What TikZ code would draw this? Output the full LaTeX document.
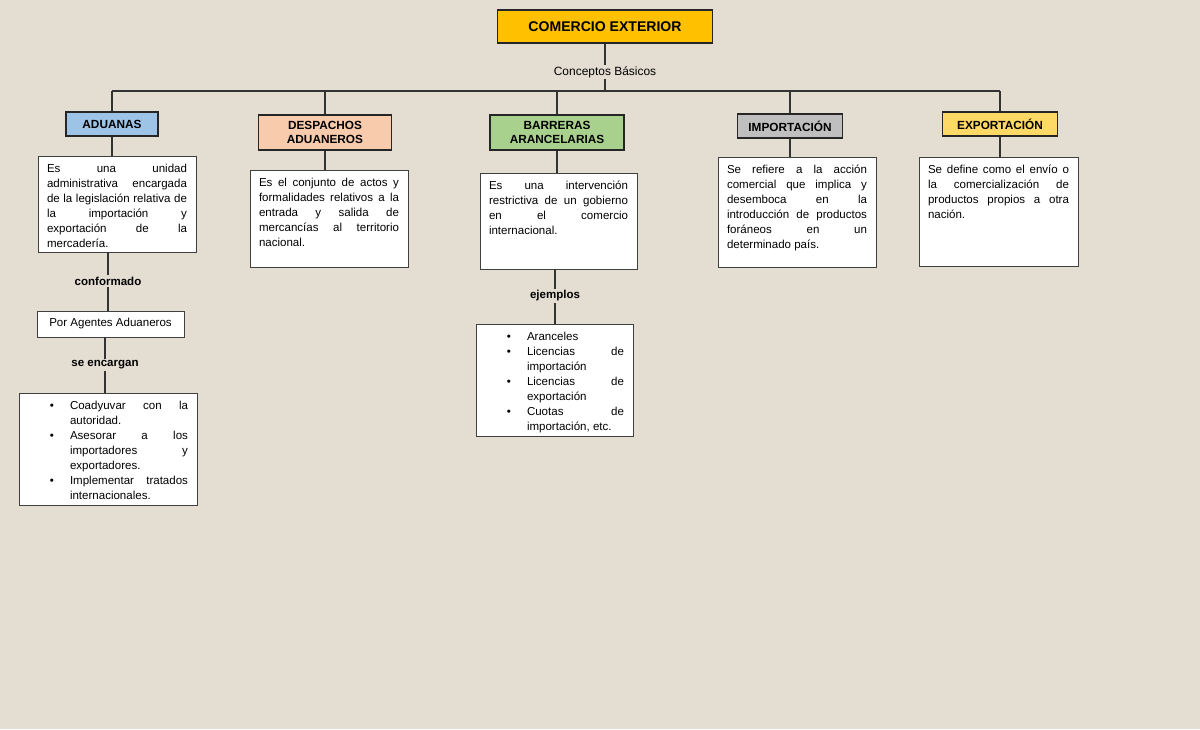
\documentclass[tikz,border=0pt]{standalone}
\usepackage{fontspec}
\setmainfont{Liberation Sans}
\usetikzlibrary{positioning}

\newlength{\px}
\setlength{\px}{0.025cm}

\definecolor{paper}{RGB}{228,221,210}
\definecolor{titlefill}{RGB}{255,192,0}
\definecolor{adfill}{RGB}{157,195,230}
\definecolor{defill}{RGB}{248,203,173}
\definecolor{bafill}{RGB}{169,209,142}
\definecolor{imfill}{RGB}{191,191,191}
\definecolor{exfill}{RGB}{255,217,102}

\newcommand{\txtfont}{\fontsize{8.2}{10.7}\selectfont}
\newcommand{\hdrfont}{\fontsize{8.4}{10.5}\selectfont\bfseries}
\newcommand{\titlefont}{\fontsize{10}{12}\selectfont\bfseries}
% top aligned justified text of fixed size (in px)
\newcommand{\boxtext}[3]{\parbox[c][#2\px][t]{#1\px}{\tolerance=10000\hbadness=10000\hyphenpenalty=10000 #3}}
\newenvironment{dotlist}{\begin{list}{\textbullet}{%
  \setlength{\leftmargin}{42\px}\setlength{\labelsep}{16\px}%
  \setlength{\labelwidth}{26\px}\setlength{\itemindent}{0pt}%
  \setlength{\itemsep}{0pt}\setlength{\parsep}{0pt}%
  \setlength{\topsep}{0pt}\setlength{\partopsep}{0pt}}}{\end{list}}

\begin{document}
\begin{tikzpicture}[x=0.025cm,y=-0.025cm,
  hdrbox/.style={rectangle,draw=black!85,line width=0.8pt,fill=#1,inner sep=0pt,align=center,font=\hdrfont},
  txtbox/.style={rectangle,draw=black!75,line width=0.7pt,fill=white,inner xsep=9*\px,inner ysep=8*\px,font=\txtfont},
  lbl/.style={font=\txtfont\bfseries,inner sep=1pt},
  link/.style={draw=black!80,line width=1.4pt},
]
\useasboundingbox (0,0) rectangle (1200,729);
\fill[paper] (0,0) rectangle (1200,729);

% ==== ROOT ====
\node[hdrbox=titlefill,font=\titlefont,minimum width=215*\px,minimum height=33*\px] (title) at (605,26.5) {COMERCIO EXTERIOR};
\node[font=\fontsize{8.5}{10}\selectfont,inner sep=1pt] (cb) at (605,72) {Conceptos Básicos};
\coordinate (bus) at (605,91);

% ==== HEADERS ====
\node[hdrbox=adfill,minimum width=92*\px,minimum height=24*\px] (ad) at (112,124) {ADUANAS};
\node[hdrbox=defill,minimum width=133*\px,minimum height=35*\px] (de) at (325,132.5) {DESPACHOS\\ADUANEROS};
\node[hdrbox=bafill,minimum width=134*\px,minimum height=35*\px] (ba) at (557,132.5) {BARRERAS\\ARANCELARIAS};
\node[hdrbox=imfill,minimum width=105*\px,minimum height=24*\px] (im) at (790,126) {IMPORTACIÓN};
\node[hdrbox=exfill,minimum width=115*\px,minimum height=24*\px] (ex) at (1000,124) {EXPORTACIÓN};

% ==== DEFINITIONS ====
\node[txtbox] (adtxt) at (117,204) {\boxtext{140}{80}{Es una unidad\linebreak administrativa encargada\linebreak de la legislación relativa de\linebreak la importación y\linebreak exportación de la\linebreak mercadería.}};
\node[txtbox] (detxt) at (329,218.5) {\boxtext{140}{81}{Es el conjunto de actos y\linebreak formalidades relativos a la\linebreak entrada y salida de\linebreak mercancías al territorio\linebreak nacional.}};
\node[txtbox] (batxt) at (558.5,221) {\boxtext{139}{80}{Es una intervención\linebreak restrictiva de un gobierno\linebreak en el comercio\linebreak internacional.}};
\node[txtbox] (imtxt) at (797,212) {\boxtext{140}{94}{Se refiere a la acción\linebreak comercial que implica y\linebreak desemboca en la\linebreak introducción de productos\linebreak foráneos en un\linebreak determinado país.}};
\node[txtbox] (extxt) at (998.5,211.5) {\boxtext{141}{93}{Se define como el envío o\linebreak la comercialización de\linebreak productos propios a otra\linebreak nación.}};

% ==== ADUANAS branch ====
\node[lbl] (cf) at (108,281) {conformado};
\node[txtbox,inner ysep=0pt,minimum width=147*\px,minimum height=26*\px] (por) at (110.5,324) {Por Agentes Aduaneros};
\node[lbl] (se) at (105,365) {se encargan};
\node[txtbox] (adlist) at (108,449) {\boxtext{160}{96}{\begin{dotlist}
  \item Coadyuvar con la\linebreak autoridad.
  \item Asesorar a los\linebreak importadores y\linebreak exportadores.
  \item Implementar tratados\linebreak internacionales.
\end{dotlist}}};

% ==== BARRERAS branch ====
\node[lbl] (ej) at (555,296) {ejemplos};
\node[txtbox] (balist) at (554.5,380) {\boxtext{139}{96}{\begin{dotlist}
  \item Aranceles
  \item Licencias de\linebreak importación
  \item Licencias de\linebreak exportación
  \item Cuotas de\linebreak importación, etc.
\end{dotlist}}};

% ==== CONNECTORS ====
\draw[link] (title.south) -- (title.south |- cb.north);
\draw[link] (cb.south) -- (cb.south |- bus);
\draw[link] (ad.north |- bus) -- (ex.north |- bus);
\foreach \h/\t in {ad/adtxt,de/detxt,ba/batxt,im/imtxt,ex/extxt}{
  \draw[link] (\h.north |- bus) -- (\h.north);
  \draw[link] (\h.south) -- (\h.south |- \t.north);
}
\draw[link] (cf.north |- adtxt.south) -- (cf.north);
\draw[link] (cf.south) -- (cf.south |- por.north);
\draw[link] (se.north |- por.south) -- (se.north);
\draw[link] (se.south) -- (se.south |- adlist.north);
\draw[link] (ej.north |- batxt.south) -- (ej.north);
\draw[link] (ej.south) -- (ej.south |- balist.north);

\end{tikzpicture}
\end{document}
